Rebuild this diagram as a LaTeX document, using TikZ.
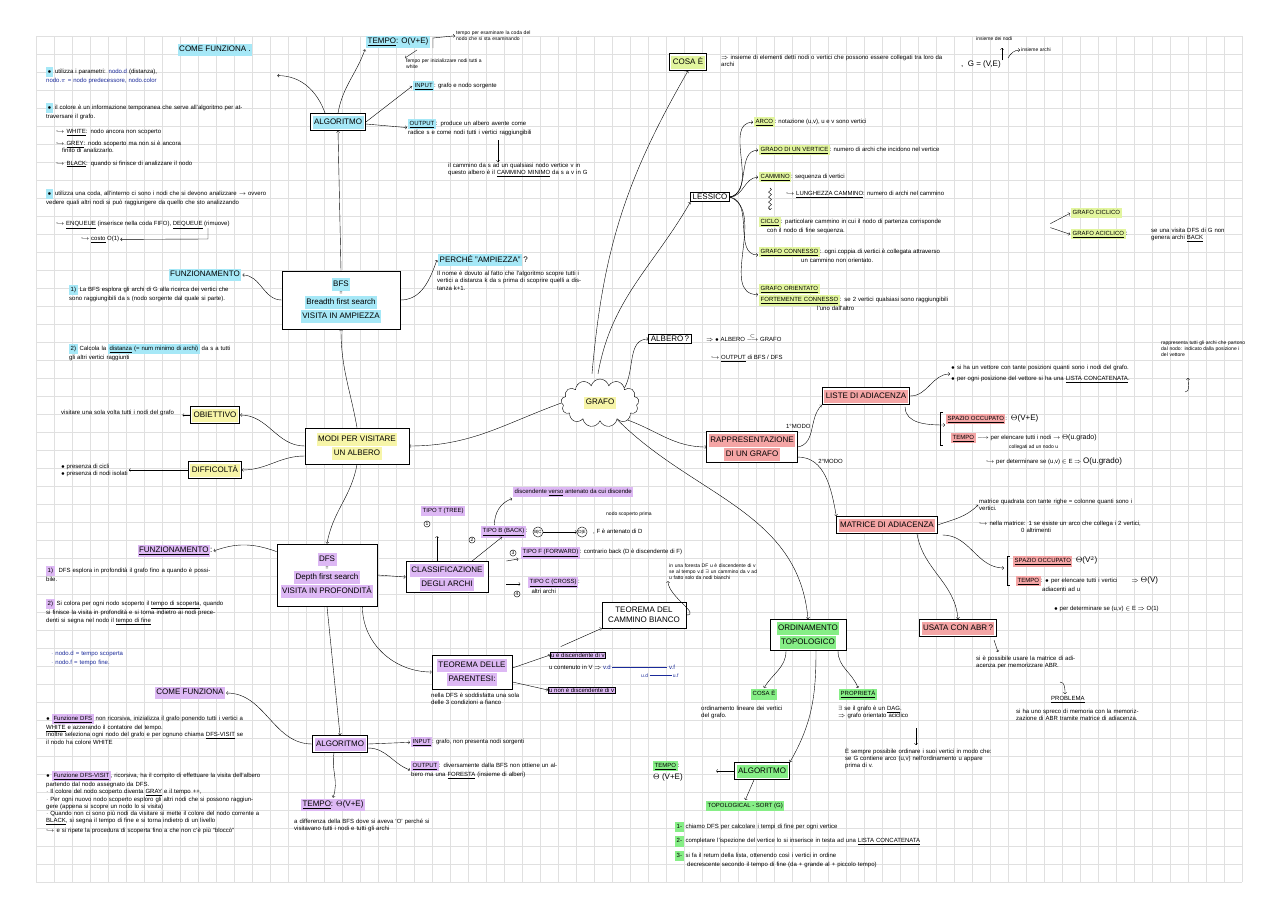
\documentclass[tikz,border=0pt]{standalone}
\usepackage{fontspec}
\setmainfont{Liberation Sans}
\usetikzlibrary{shapes.symbols,positioning,calc,decorations.pathmorphing}
\definecolor{hlblue}{HTML}{A6E8F7}
\definecolor{hlyellow}{HTML}{F7F5A8}
\definecolor{hlpink}{HTML}{F4A5A5}
\definecolor{hlpurple}{HTML}{DDB8F4}
\definecolor{hlgreen}{HTML}{86EE86}
\definecolor{hllime}{HTML}{E2F59E}
\definecolor{inkblue}{HTML}{1A2A9A}
\newcommand{\hl}[2]{{\setlength{\fboxsep}{1.5pt}\colorbox{#1}{\strut #2}}}
\tikzset{
  txt/.style={font=\fontsize{6}{7.2}\selectfont,align=left,anchor=north west,inner sep=1pt},
  lab/.style={font=\fontsize{8}{9.5}\selectfont,inner sep=1pt},
  box/.style={draw,thick,fill=white,font=\fontsize{8}{10}\selectfont,align=center,inner sep=2pt},
  arr/.style={->,thin},
  num/.style={draw,circle,inner sep=0.6pt,font=\fontsize{5}{6}\selectfont},
}
\begin{document}
\begin{tikzpicture}[x=1pt,y=-1pt]
\useasboundingbox (0,0) rectangle (1280,905);
\fill[white] (0,0) rectangle (1280,905);
\foreach \x in {36,54,...,1242} \draw[black!12] (\x,36) -- (\x,882);
\foreach \y in {36,54,...,882} \draw[black!12] (36,\y) -- (1242,\y);

% centre
\node[cloud,draw,cloud puffs=13,aspect=1.6,minimum width=78,minimum height=48,fill=white] (grafo) at (600,403) {};
\node[lab] at (grafo) {\hl{hlyellow}{GRAFO}};

% ---------------- BFS ----------------
\node[box,minimum width=118,minimum height=58] (bfs) at (341,300) {\hl{hlblue}{BFS}\\[-2pt]{\tiny=}\\\hl{hlblue}{Breadth first search}\\\hl{hlblue}{VISITA IN AMPIEZZA}};
\node[box] (algbfs) at (338,122) {\hl{hlblue}{ALGORITMO}};
\node[lab] (comebfs) at (215,50) {\hl{hlblue}{COME FUNZIONA .}};
\node[txt,text width=230] (cf1) at (45,66) {\hl{hlblue}{$\bullet$} utilizza i parametri: {\color{inkblue}nodo.d} (distanza),\\ {\color{inkblue}nodo.$\pi$ = nodo predecessore, nodo.color}};
\node[txt,text width=210] (cf2) at (45,102) {\hl{hlblue}{$\bullet$} il colore è un informazione temporanea che serve all'algoritmo per attraversare il grafo.};
\node[txt,text width=210] (cf3) at (55,128) {$\hookrightarrow$ \underline{WHITE}: nodo ancora non scoperto\\[5pt]
$\hookrightarrow$ \underline{GREY}: nodo scoperto ma non si è ancora\\ \quad finito di analizzarlo.\\[5pt]
$\hookrightarrow$ \underline{BLACK}: quando si finisce di analizzare il nodo};
\node[txt,text width=225] (cf4) at (45,188) {\hl{hlblue}{$\bullet$} utilizza una coda, all'interno ci sono i nodi che si devono analizzare $\to$ ovvero vedere quali altri nodi si può raggiungere da quello che sto analizzando};
\node[txt] (enq) at (55,220) {$\hookrightarrow$ \underline{ENQUEUE} (inserisce nella coda FIFO), \underline{DEQUEUE} (rimuove)};
\node[txt] (costo) at (80,235) {$\hookrightarrow$ \underline{costo} O(1)};
\draw[arr] (208,228) -- (208,239) -- (costo.east);

\node[lab] (tempobfs) at (398,42) {\hl{hlblue}{\underline{TEMPO}: O(V+E)}};
\node[txt,text width=80,font=\fontsize{5}{5.5}\selectfont] (tb1) at (455,30) {tempo per esaminare la coda del nodo che si sta esaminando};
\node[txt,text width=80,font=\fontsize{5}{5.5}\selectfont] (tb2) at (405,58) {tempo per inizializzare nodi tutti a white};
\draw[arr] (433,48) -- (433,38) -- (tb1.west);
\draw[arr] (417,50) -- (tb2.north west);
\node[txt] (inbfs) at (412,80) {\hl{hlblue}{\underline{INPUT}}: grafo e nodo sorgente};
\node[txt,text width=130] (outbfs) at (407,118) {\hl{hlblue}{\underline{OUTPUT}}: produce un albero avente come radice s e come nodi tutti i vertici raggiungibili};
\node[txt,text width=140] (cammin) at (447,162) {il cammino da s ad un qualsiasi nodo vertice v in questo albero è il \underline{CAMMINO MINIMO} da s a v in G};
\draw[arr] (498,140) -- (cammin.north -| 498,0);

\draw[arr] (algbfs.north west) ++(15,0) to[out=110,in=0] (cf1.east);
\draw[arr] (algbfs.north) to[out=80,in=250] (tempobfs.south west);
\draw[arr] (algbfs.east) to (inbfs.west);
\draw[arr] (algbfs.east) ++(0,2) to (outbfs.west);
\draw[arr] (bfs.north) -- (algbfs.south);

\node[lab] (funzbfs) at (205,275) {\hl{hlblue}{FUNZIONAMENTO}};
\node[txt,text width=165] (fb1) at (68,284) {\hl{hlblue}{1)} La BFS esplora gli archi di G alla ricerca dei vertici che sono raggiungibili da s (nodo sorgente dal quale si parte).};
\node[txt,text width=165] (fb2) at (68,343) {\hl{hlblue}{2)} Calcola la \hl{hlblue}{\underline{distanza} (= num minimo di archi)} da s a tutti gli altri vertici raggiunti};
\draw[arr] (bfs.west) to[out=180,in=0] (funzbfs.east);

\node[lab] (perche) at (483,260) {\hl{hlblue}{PERCHÉ "AMPIEZZA"}\,?};
\node[txt,text width=150] (perchet) at (436,270) {Il nome è dovuto al fatto che l'algoritmo scopre tutti i vertici a distanza k da s prima di scoprire quelli a distanza k+1.};
\draw[arr] (bfs.east) to[out=0,in=250] (perche.west);

% ---------------- modi ----------------
\node[box,minimum width=104,minimum height=36] (modi) at (357,446) {\hl{hlyellow}{MODI PER VISITARE}\\\hl{hlyellow}{UN ALBERO}};
\node[box] (obiet) at (215,415) {\hl{hlyellow}{OBIETTIVO}};
\node[txt,text width=120] (obt) at (60,409) {visitare una sola volta tutti i nodi del grafo};
\node[box] (diffic) at (215,470) {\hl{hlyellow}{DIFFICOLTÀ}};
\node[txt] (dft) at (60,463) {$\bullet$ presenza di cicli\\$\bullet$ presenza di nodi isolati};
\draw[arr] (obiet.west) -- (obt.east |- obiet.west);
\draw[arr] (diffic.west) -- (dft.east |- diffic.west);
\draw[arr] (modi.west) to[out=180,in=0] (obiet.east);
\draw[arr] (modi.west) ++(0,10) to[out=180,in=0] (diffic.east);
\draw[arr] (modi.north) to[out=100,in=-90] (bfs.south);
\draw[arr] (grafo.west) to[out=200,in=0] (modi.east);

% ---------------- DFS ----------------
\node[box,minimum width=100,minimum height=62] (dfs) at (327,575) {\hl{hlpurple}{DFS}\\[-2pt]{\tiny=}\\\hl{hlpurple}{Depth first search}\\\hl{hlpurple}{VISITA IN PROFONDITÀ}};
\draw[arr] (modi.south) to[out=-100,in=80] (dfs.north);
\node[lab] (funzdfs) at (175,551) {\hl{hlpurple}{\underline{FUNZIONAMENTO}}:};
\node[txt,text width=165] (fd1) at (45,565) {\hl{hlpurple}{1)} \ DFS esplora in profondità il grafo fino a quando è possibile.};
\node[txt,text width=180] (fd2) at (45,598) {\hl{hlpurple}{2)} Si colora per ogni nodo scoperto il \underline{tempo di scoperta}, quando si finisce la visita in profondità e si torna indietro ai nodi precedenti si segna nel nodo il \underline{tempo di fine}};
\node[txt,text width=160,text=inkblue] (fd3) at (50,650) {$\cdot$ nodo.d = tempo scoperta\\[2pt]$\cdot$ nodo.f = tempo fine.};
\draw[arr] (dfs.north west) ++(0,8) to[out=160,in=20] (funzdfs.east);

\node[box] (algdfs) at (340,744) {\hl{hlpurple}{ALGORITMO}};
\draw[arr] (dfs.south) -- (algdfs.north);
\node[lab] (comedfs) at (190,693) {\hl{hlpurple}{COME FUNZIONA}};
\draw[arr] (algdfs.west) to[out=180,in=0] (comedfs.east);
\node[txt,text width=200] (cd1) at (45,713) {$\bullet$ \hl{hlpurple}{\underline{Funzione DFS}} non ricorsiva, inizializza il grafo ponendo tutti i vertici a \underline{WHITE} e azzerando il contatore del tempo.\\ Inoltre seleziona ogni nodo del grafo e per ognuno chiama \underline{DFS-VISIT} se il nodo ha colore WHITE};
\node[txt,text width=215] (cd2) at (45,770) {$\bullet$ \hl{hlpurple}{\underline{Funzione DFS-VISIT}}, ricorsiva, ha il compito di effettuare la visita dell'albero partendo dal nodo assegnato da DFS.\\
$\cdot$ Il colore del nodo scoperto diventa \underline{GRAY} e il tempo ++,\\
$\cdot$ Per ogni nuovo nodo scoperto esploro gli altri nodi che si possono raggiungere (appena si scopre un nodo lo si visita)\\
$\cdot$ Quando non ci sono più nodi da visitare si mette il colore del nodo corrente a \underline{BLACK}, si segna il tempo di fine e si torna indietro di un livello\\[3pt]
$\hookrightarrow$ e si ripete la procedura di scoperta fino a che non c'è più ``bloccò''};

\node[lab] (tempodfs) at (333,805) {\hl{hlpurple}{\underline{TEMPO}: $\Theta$(V+E)}};
\node[txt,text width=140] (tdt) at (293,818) {a differenza della BFS dove si aveva `O' perché si visitavano tutti i nodi e tutti gli archi};
\draw[arr] (algdfs.south) ++(-6,0) to[out=-100,in=70] (tempodfs.north);
\node[txt] (indfs) at (410,736) {\hl{hlpurple}{\underline{INPUT}}: grafo, non presenta nodi sorgenti};
\node[txt,text width=150] (outdfs) at (410,760) {\hl{hlpurple}{\underline{OUTPUT}}: diversamente dalla BFS non ottiene un albero ma una \underline{FORESTA} (insieme di alberi)};
\draw[arr] (algdfs.east) to (indfs.west);
\draw[arr] (algdfs.east) ++(0,4) to[out=0,in=160] (outdfs.west);

% classificazione
\node[box,minimum width=82,minimum height=30] (classif) at (447,577) {\hl{hlpurple}{CLASSIFICAZIONE}\\\hl{hlpurple}{DEGLI ARCHI}};
\draw[arr] (dfs.east) -- (classif.west);
\node[txt] (tipot) at (420,505) {\hl{hlpurple}{TIPO T (TREE)}};
\node[num] (n1) at (427,524) {1};
\draw[arr] (classif.north) ++(-10,0) -- ++(0,-25);
\node[num] (n2) at (472,540) {2};
\node[txt,anchor=west] (tipob) at (480,532) {\hl{hlpurple}{\underline{TIPO B (BACK)}}:};
\node[num,font=\fontsize{4.5}{5}\selectfont] (bc) at (538,532) {B|C};
\node[num,font=\fontsize{4.5}{5}\selectfont] (de) at (582,532) {D|E};
\draw[arr] (bc) -- (de);
\node[txt,anchor=west] at (592,532) {, F è antenato di D};
\draw[arr] (classif.north) ++(25,0) -- ++(30,-24);
\node[txt] (disc) at (512,486) {\hl{hlpurple}{discendente \underline{verso} antenato da cui discende}};
\draw[arr] (tipob.north) ++(-10,0) to[out=90,in=200] (disc.south west);
\node[txt,font=\fontsize{5}{6}\selectfont] at (605,511) {nodo scoperto prima};
\node[num] (n3) at (513,553) {3};
\node[txt,anchor=west] (tipof) at (520,553) {\hl{hlpurple}{\underline{TIPO F (FORWARD)}}: contrario back (D è discendente di F)};
\draw[arr] (classif.east) ++(18,-16) -- ++(12,-2);
\node[txt] (tipoc) at (527,576) {\hl{hlpurple}{\underline{TIPO C (CROSS)}}:\\ \ \ altri archi};
\node[num] (n4) at (517,594) {4};
\draw[arr] (classif.east) ++(18,7) -- ++(14,0);

\node[txt,text width=90,font=\fontsize{5}{6}\selectfont] (wpt) at (668,563) {in una foresta DF u è discendente di v se al tempo v.d $\exists$ un cammino da v ad u fatto solo da nodi bianchi};
\node[box,minimum width=84,minimum height=26] (cammbi) at (644,615) {TEOREMA DEL\\CAMMINO BIANCO};
\draw[arr] (cammbi.east) to[out=0,in=-90] (wpt.south west);
\node[box,minimum width=80,minimum height=34] (parent) at (472,672) {\hl{hlpurple}{TEOREMA DELLE}\\\hl{hlpurple}{PARENTESI:}};
\draw[arr] (dfs.south east) ++(-15,0) to[out=-90,in=180] (parent.west);
\node[txt,text width=90] at (430,692) {nella DFS è soddisfatta una sola delle 3 condizioni a fianco};
\node[draw,txt,fill=hlpurple,anchor=west] (udisc) at (550,655) {u è discendente di v};
\node[txt,anchor=west] at (548,667) {u contenuto in V $\Rightarrow$ \textcolor{inkblue}{v.d \rule[2pt]{55pt}{0.4pt} v.f}};
\node[txt,anchor=west,text=inkblue,font=\fontsize{5}{6}\selectfont] at (640,676) {u.d \rule[2pt]{22pt}{0.4pt} u.f};
\node[draw,txt,fill=hlpurple,anchor=west] (unon) at (548,690) {u non è discendente di v};
\draw[arr] (parent.east) ++(0,-4) -- (udisc.west);
\draw[arr] (parent.east) ++(0,10) -- (unon.west);
\draw[arr] (udisc.north east) ++(-45,-5) -- (cammbi.south west);

% ---------------- GRAFO right ----------------
\node[box] (cosa) at (688,62) {\hl{hllime}{COSA È}};
\node[txt,text width=230] (cosat) at (720,54) {$\Rightarrow$ insieme di elementi detti nodi o vertici che possono essere collegati tra loro da archi};
\node[txt,font=\fontsize{8}{9}\selectfont] (gve) at (960,60) {, \ G = (V,E)};
\node[txt,font=\fontsize{5}{6}\selectfont] (insv) at (975,36) {insieme dei nodi};
\node[txt,font=\fontsize{5}{6}\selectfont] (inse) at (1020,47) {insieme archi};
\draw[arr] (1002,60) -- (1002,48);
\draw[arr] (1008,58) to[out=60,in=180] (inse.west);
\draw[arr] (grafo.north) ++(-8,-5) to[out=85,in=240] (cosa.south);

\node[box] (lessico) at (710,197) {LESSICO};
\draw[arr] (grafo.north) ++(-2,-5) to[out=80,in=240] (lessico.south west);
\node[txt] (arco) at (753,116) {\hl{hllime}{\underline{ARCO}}: notazione (u,v), u e v sono vertici};
\node[txt] (grado) at (758,144) {\hl{hllime}{\underline{GRADO DI UN VERTICE}}: numero di archi che incidono nel vertice};
\node[txt] (cammino) at (758,171) {\hl{hllime}{\underline{CAMMINO}}: sequenza di vertici};
\node[txt] at (785,190) {$\hookrightarrow$ \underline{LUNGHEZZA CAMMINO}: numero di archi nel cammino};
\draw[->,decorate,decoration={snake,amplitude=1.5pt,segment length=5pt}] (770,188) -- (770,210);
\node[txt,text width=300] (ciclo) at (758,216) {\hl{hllime}{\underline{CICLO}}: particolare cammino in cui il nodo di partenza corrisponde\\ \quad\ con il nodo di fine sequenza.};
\node[txt] (gcicl) at (1070,207) {\hl{hllime}{GRAFO CICLICO}};
\node[txt] (gacicl) at (1070,228) {\hl{hllime}{\underline{GRAFO ACICLICO}}:};
\node[txt,text width=80] at (1150,227) {se una visita DFS di G non genera archi \underline{BACK}};
\draw[arr] (ciclo.east) ++(-10,-2) -- (gcicl.west);
\draw[arr] (ciclo.east) ++(-10,2) -- (gacicl.west);
\node[txt,text width=260] (gconn) at (758,246) {\hl{hllime}{\underline{GRAFO CONNESSO}}: ogni coppia di vertici è collegata attraverso\\ \qquad\qquad\qquad\quad un cammino non orientato.};
\node[txt,text width=300] (gfort) at (758,283) {\hl{hllime}{\underline{GRAFO ORIENTATO}}\\\hl{hllime}{\underline{FORTEMENTE CONNESSO}}: se 2 vertici qualsiasi sono raggiungibili\\ \qquad\qquad\qquad\qquad\quad\ \ l'uno dall'altro};
\draw[arr] (lessico.east) to[out=10,in=180] (arco.west);
\draw[arr] (lessico.east) to[out=10,in=180] (grado.west);
\draw[arr] (lessico.east) to[out=0,in=180] (cammino.west);
\draw[arr] (lessico.east) to[out=-10,in=180] (gconn.west);
\draw[arr] (lessico.east) to[out=-20,in=180] ($(gfort.west)+(0,-3)$);

\node[box] (albero) at (670,339) {ALBERO\,?};
\draw[arr] (grafo.north east) to[out=60,in=180] (albero.west);
\node[txt] (albt) at (705,332) {$\Rightarrow$ $\bullet$ ALBERO $\stackrel{\subset}{\longrightarrow}$ GRAFO};
\node[txt] (albo) at (710,354) {$\hookrightarrow$ \underline{OUTPUT} di BFS / DFS};

% rappresentazione
\node[box,minimum width=90,minimum height=28] (rappr) at (752,447) {\hl{hlpink}{RAPPRESENTAZIONE}\\\hl{hlpink}{DI UN GRAFO}};
\draw[arr] (grafo.south east) to[out=-20,in=180] (rappr.west);
\node[box] (liste) at (866,396) {\hl{hlpink}{LISTE DI ADIACENZA}};
\draw[arr] (rappr.east) to[out=10,in=225] node[txt,anchor=south east,pos=0.5] {1°MODO} (liste.south west);
\node[txt,text width=240] (lt1) at (950,364) {$\bullet$ si ha un vettore con tante posizioni quanti sono i nodi del grafo.\\[4pt]$\bullet$ per ogni posizione del vettore si ha una \underline{LISTA CONCATENATA}.};
\node[txt,text width=85,font=\fontsize{5}{6}\selectfont] (ltn) at (1160,340) {rappresenta tutti gli archi che partono dal nodo: indicato dalla posizione i del vettore};
\draw[arr] (liste.east) to[out=0,in=180] (lt1.west);
\draw[arr] (1185,392) to[out=0,in=-90] (1188,378);
\node[txt] (spl) at (945,413) {\hl{hlpink}{\underline{SPAZIO OCCUPATO}}: \ {\fontsize{8}{9}\selectfont $\Theta$(V+E)}};
\node[txt] (tml) at (950,432) {\hl{hlpink}{\underline{TEMPO}} $\longrightarrow$ per elencare tutti i nodi $\rightarrow$ {\fontsize{7}{8}\selectfont $\Theta$(u.grado)}};
\node[txt,font=\fontsize{5}{6}\selectfont] at (1008,444) {collegati ad un nodo u};
\node[txt] (tml2) at (985,456) {$\hookrightarrow$ per determinare se (u,v) $\in$ E $\Rightarrow$ {\fontsize{8}{9}\selectfont O(u.grado)}};
\draw[arr] (liste.south east) ++(-5,2) to[out=-90,in=180] (spl.west |- 940,425);
\draw[thick] (943,412) -- (940,412) -- (940,445) -- (943,445);

\node[box] (matrice) at (887,525) {\hl{hlpink}{MATRICE DI ADIACENZA}};
\draw[arr] (rappr.east) ++(0,10) to[out=0,in=100] node[txt,anchor=south west,pos=0.3] {2°MODO} (matrice.north west);
\node[txt,text width=160] (mt1) at (978,498) {matrice quadrata con tante righe = colonne quanti sono i vertici.};
\node[txt,text width=170] (mt2) at (978,520) {$\hookrightarrow$ nella matrice: 1 se esiste un arco che collega i 2 vertici,\\ \qquad\qquad\qquad\quad 0 altrimenti};
\draw[arr] (matrice.east) to[out=20,in=225] (mt1.west);
\node[txt] (spm) at (1012,555) {\hl{hlpink}{\underline{SPAZIO OCCUPATO}} \ {\fontsize{8}{9}\selectfont $\Theta$(V$^2$)}};
\node[txt,text width=200] (tmm) at (1015,575) {\hl{hlpink}{\underline{TEMPO}}: $\bullet$ per elencare tutti i vertici \qquad $\Rightarrow$ {\fontsize{8}{9}\selectfont $\Theta$(V)}\\ \qquad\qquad\ adiacenti ad u};
\node[txt] (tmm2) at (1053,605) {$\bullet$ per determinare se (u,v) $\in$ E $\Rightarrow$ O(1)};
\draw[thick] (1010,556) -- (1007,556) -- (1007,585) -- (1010,585);
\draw[arr] (matrice.east) ++(5,10) to[out=0,in=180] (1004,568);
\node[box] (abr) at (958,628) {\hl{hlpink}{USATA CON ABR\,?}};
\draw[arr] (matrice.south) ++(30,0) to[out=-80,in=95] (abr.north);
\node[txt,text width=100] (abrt) at (975,655) {si è possibile usare la matrice di adiacenza per memorizzare ABR.};
\draw[arr] (994,640) -- (998,652);
\node[txt] (probl) at (1050,695) {\underline{PROBLEMA}};
\node[txt,text width=130] (probt) at (1015,708) {si ha uno spreco di memoria con la memorizzazione di ABR tramite matrice di adiacenza.};
\draw[arr] (1060,682) to[out=0,in=90] (1065,694);

% ordinamento
\node[box,minimum width=76,minimum height=28] (ordin) at (808,635) {\hl{hlgreen}{ORDINAMENTO}\\\hl{hlgreen}{TOPOLOGICO}};
\draw[arr] (grafo.south east) ++(-10,0) to[out=-45,in=95] (ordin.north);
\node[txt] (cosaord) at (750,688) {\hl{hlgreen}{COSA È}};
\node[txt,text width=90] at (700,705) {ordinamento lineare dei vertici del grafo.};
\node[txt] (propr) at (838,688) {\hl{hlgreen}{\underline{PROPRIETÀ}}};
\node[txt,text width=120] (proprt) at (837,705) {$\exists$ se il grafo è un \underline{DAG}.\\$\Rightarrow$ grafo orientato aciclico};
\node[txt,text width=150] (proprt2) at (844,747) {È sempre possibile ordinare i suoi vertici in modo che:\\se G contiene arco (u,v) nell'ordinamento u appare prima di v.};
\draw[arr] (916,728) -- (916,745);
\draw[arr] (ordin.south) ++(-22,0) to[out=-90,in=60] (cosaord.north);
\draw[arr] (ordin.south) ++(30,0) to[out=-90,in=110] (propr.north);
\node[box] (algord) at (762,771) {\hl{hlgreen}{ALGORITMO}};
\draw[arr] (ordin.south) ++(8,0) to[out=-90,in=60] (algord.north east);
\node[txt] (tempoord) at (652,760) {\hl{hlgreen}{\underline{TEMPO}}:\\[1pt]{\fontsize{8}{9}\selectfont $\Theta$ (V+E)}};
\draw[arr] (algord.west) -- ++(-18,0);
\node[txt] (tsort) at (705,800) {\hl{hlgreen}{TOPOLOGICAL - SORT (G)}};
\draw[arr] (algord.south) ++(-8,0) -- (tsort.north);
\node[txt,text width=330] (ts) at (674,821) {\hl{hlgreen}{1-} chiamo DFS per calcolare i tempi di fine per ogni vertice\\[3pt]
\hl{hlgreen}{2-} completare l'ispezione del vertice lo si inserisce in testa ad una \underline{LISTA CONCATENATA}\\[3pt]
\hl{hlgreen}{3-} si fa il return della lista, ottenendo così i vertici in ordine\\ \qquad decrescente secondo il tempo di fine (da + grande al + piccolo tempo)};
\end{tikzpicture}
\end{document}
